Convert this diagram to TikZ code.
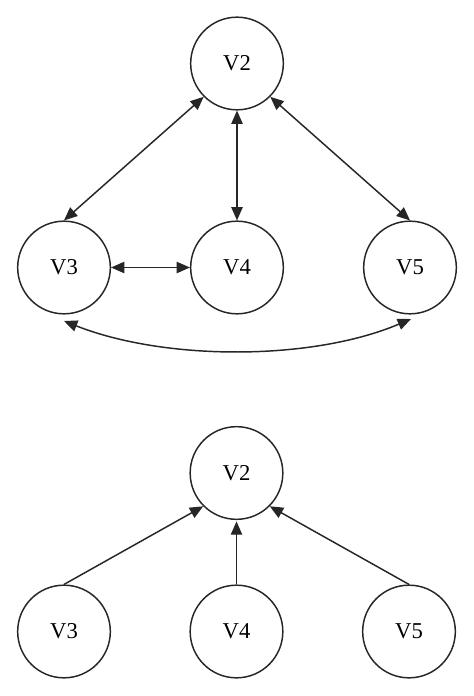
\documentclass[tikz,border=0pt]{standalone}
\usepackage{fontspec}
\setmainfont{Liberation Serif}
\usetikzlibrary{arrows.meta}
\begin{document}
\begin{tikzpicture}[x=0.75pt,y=-0.75pt,
  vert/.style={draw=black!85,circle,line width=1.1pt,minimum size=69.5pt,inner sep=0pt,font=\fontsize{17}{19}\selectfont},
  tip/.tip={Triangle[length=10pt,width=8.5pt]},
  link/.style={line width=1.1pt,draw=black!85,tip-tip},
  uplink/.style={line width=1.1pt,draw=black!85,-tip}]
\useasboundingbox (0,0) rectangle (474,696);
% top graph
\node[vert] (t2) at (237,63.5) {V2};
\node[vert] (t3) at (64,267.5) {V3};
\node[vert] (t4) at (237,267.5) {V4};
\node[vert] (t5) at (410,267.5) {V5};
\coordinate (c3) at (64,321);
\coordinate (c5) at (411,319);
\draw[link] (t2.225) -- (t3.north);
\draw[link] (t2.south) -- (t4.north);
\draw[link] (t2.315) -- (t5.north);
\draw[link] (t3.east) -- (t4.west);
\draw[link] (c3) .. controls (165,361) and (312,361) .. (c5);
% bottom graph
\node[vert] (b2) at (236.5,473) {V2};
\node[vert] (b3) at (64,631.5) {V3};
\node[vert] (b4) at (236.5,631.5) {V4};
\node[vert] (b5) at (409,631.5) {V5};
\draw[uplink] (b3.north) -- (b2.225);
\draw[uplink] (b4.north) -- ([yshift=-1pt]b2.south);
\draw[uplink] (b5.north) -- (b2.315);
\end{tikzpicture}
\end{document}
